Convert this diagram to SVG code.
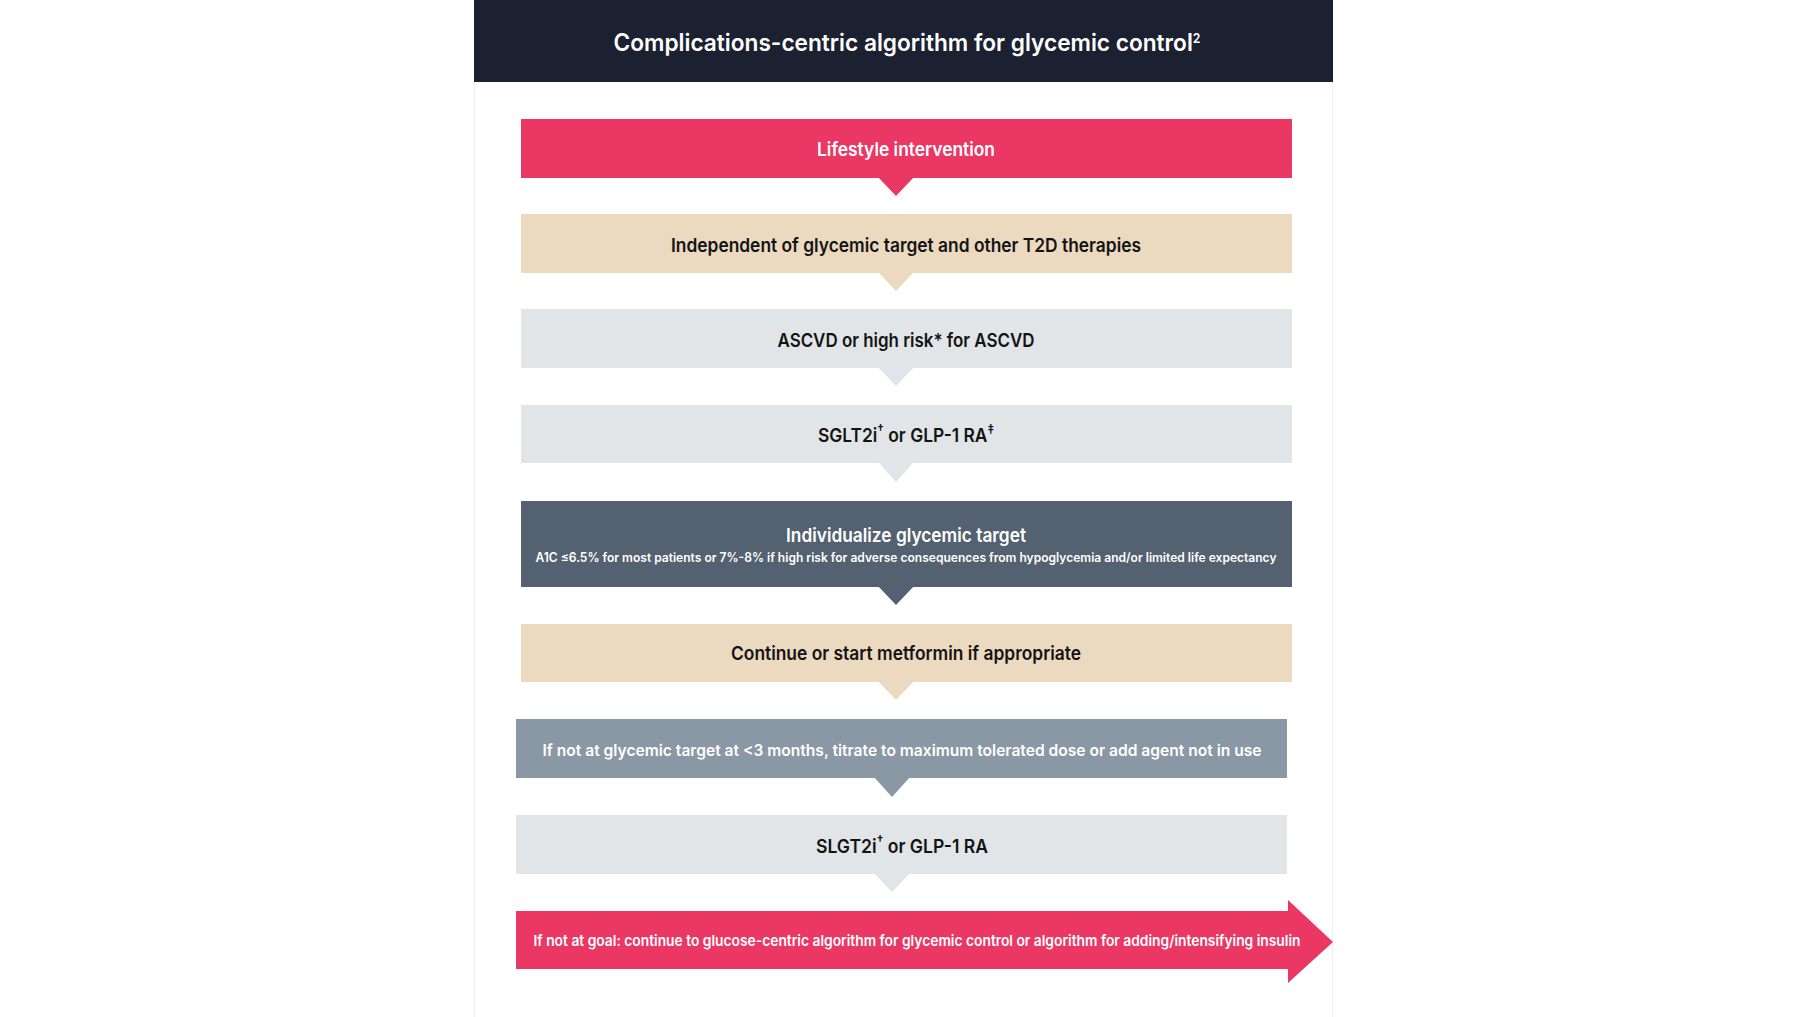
<svg xmlns="http://www.w3.org/2000/svg" width="1808" height="1017" viewBox="0 0 1808 1017">
<defs>
<style>
.t{font-family:Inter,"Liberation Sans",Arial,sans-serif;text-anchor:middle}
.dk{fill:#141414;font-weight:600;font-size:19px}
.wh{fill:#ffffff;font-weight:600}
.red{fill:#ea3763}
.beige{fill:#ecdac0}
.lg{fill:#e2e5e8}
.slate{fill:#536170}
.gb{fill:#8a97a4}
.sup{font-size:13px}
</style>
</defs>
<rect x="0" y="0" width="1808" height="1017" fill="#ffffff"/>
<rect x="474.5" y="0.5" width="858" height="1020" fill="#ffffff" stroke="#efefef" stroke-width="1"/>
<g id="header">
<rect x="474" y="0" width="859" height="82" fill="#1b2130"/>
<text class="t wh" x="907" y="51" font-size="24" textLength="587" lengthAdjust="spacingAndGlyphs">Complications-centric algorithm for glycemic control<tspan class="sup" baseline-shift="super">2</tspan></text>
</g>
<g id="connectors">
<polygon class="red" points="878,177 914,177 896,196"/>
<polygon class="beige" points="878,272 914,272 896,291"/>
<polygon class="lg" points="878,367 914,367 896,386"/>
<polygon class="lg" points="878,462 914,462 896,482"/>
<polygon class="slate" points="878,586 914,586 896,605"/>
<polygon class="beige" points="878,681 914,681 896,700"/>
<polygon class="gb" points="874,777 910,777 892,797"/>
<polygon class="lg" points="874,873 910,873 892,892"/>
</g>
<g id="n1">
<rect class="red" x="521" y="119" width="771" height="59"/>
<text class="t wh" x="906" y="156" font-size="19" textLength="178" lengthAdjust="spacingAndGlyphs">Lifestyle intervention</text>
</g>
<g id="n2">
<rect class="beige" x="521" y="214" width="771" height="59"/>
<text class="t dk" x="906" y="252" textLength="470" lengthAdjust="spacingAndGlyphs">Independent of glycemic target and other T2D therapies</text>
</g>
<g id="n3">
<rect class="lg" x="521" y="309" width="771" height="59"/>
<text class="t dk" x="906" y="347" textLength="257" lengthAdjust="spacingAndGlyphs">ASCVD or high risk* for ASCVD</text>
</g>
<g id="n4">
<rect class="lg" x="521" y="405" width="771" height="58"/>
<text class="t dk" x="906" y="442" textLength="176" lengthAdjust="spacingAndGlyphs">SGLT2i<tspan class="sup" baseline-shift="super">†</tspan> or GLP-1 RA<tspan class="sup" baseline-shift="super">‡</tspan></text>
</g>
<g id="n5">
<rect class="slate" x="521" y="501" width="771" height="86"/>
<text class="t wh" x="906" y="542" font-size="19" textLength="240" lengthAdjust="spacingAndGlyphs">Individualize glycemic target</text>
<text class="t wh" x="906" y="562" font-size="12.5" textLength="741" lengthAdjust="spacingAndGlyphs">A1C ≤6.5% for most patients or 7%-8% if high risk for adverse consequences from hypoglycemia and/or limited life expectancy</text>
</g>
<g id="n6">
<rect class="beige" x="521" y="624" width="771" height="58"/>
<text class="t dk" x="906" y="660" textLength="350" lengthAdjust="spacingAndGlyphs">Continue or start metformin if appropriate</text>
</g>
<g id="n7">
<rect class="gb" x="516" y="719" width="771" height="59"/>
<text class="t wh" x="902" y="756" font-size="16" font-weight="500" textLength="719" lengthAdjust="spacingAndGlyphs">If not at glycemic target at &lt;3 months, titrate to maximum tolerated dose or add agent not in use</text>
</g>
<g id="n8">
<rect class="lg" x="516" y="815" width="771" height="59"/>
<text class="t dk" x="902" y="853" textLength="172" lengthAdjust="spacingAndGlyphs">SLGT2i<tspan class="sup" baseline-shift="super">†</tspan> or GLP-1 RA</text>
</g>
<g id="n9">
<polygon class="red" points="516,911 1288,911 1288,900 1333,942 1288,983 1288,969 516,969"/>
<text class="t wh" x="917" y="946" font-size="15" font-weight="500" textLength="767" lengthAdjust="spacingAndGlyphs">If not at goal: continue to glucose-centric algorithm for glycemic control or algorithm for adding/intensifying insulin</text>
</g>
</svg>
